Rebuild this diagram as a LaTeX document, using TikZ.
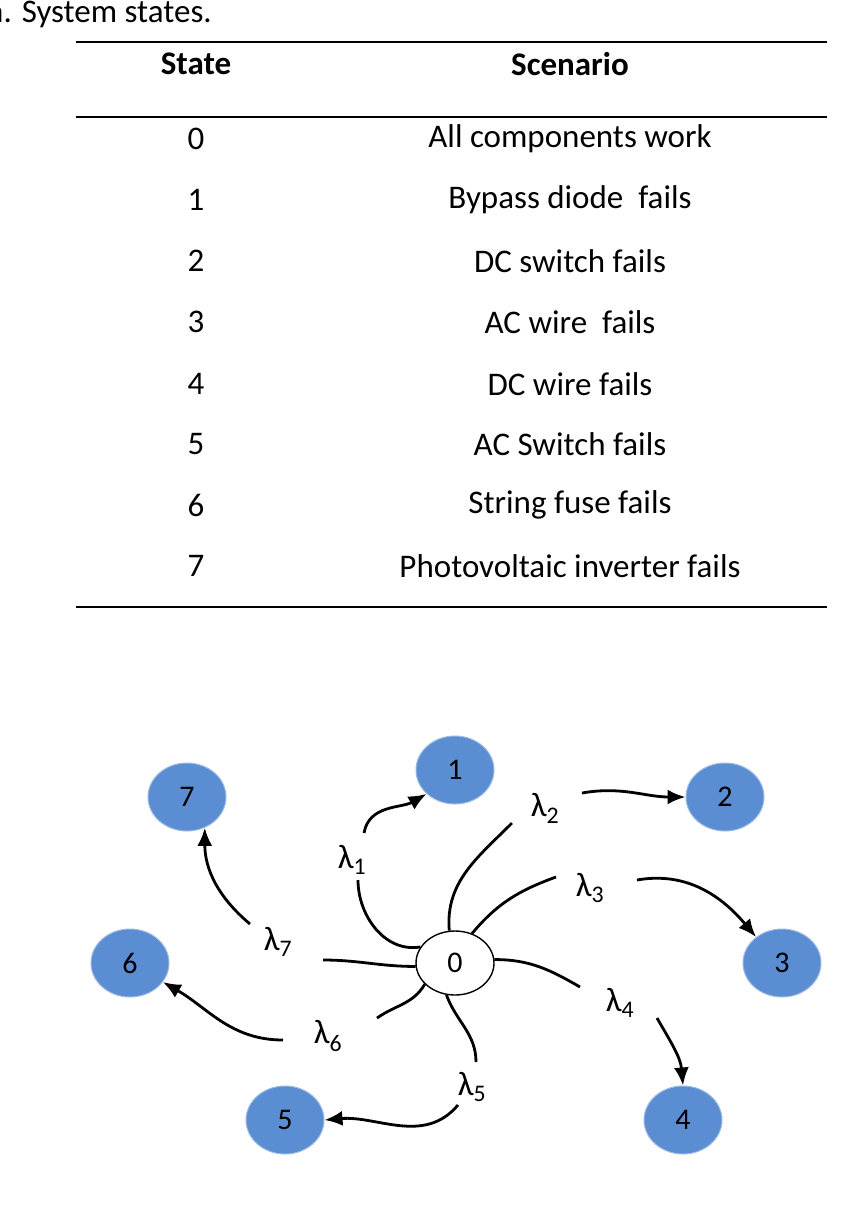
\documentclass[tikz,border=0pt]{standalone}
\usepackage{fontspec}
\setmainfont{Carlito}
\usetikzlibrary{arrows.meta,shapes.geometric}
\definecolor{stblue}{RGB}{91,141,210}
\begin{document}
\begin{tikzpicture}[x=1pt,y=-1pt,
  txt/.style={font=\fontsize{33}{36}\selectfont,inner sep=0},
  st/.style={ellipse,draw=stblue!60!white,line width=1pt,fill=stblue,minimum width=78,minimum height=68,font=\fontsize{30}{32}\selectfont,inner sep=0},
  lam/.style={font=\fontsize{34}{36}\selectfont,inner sep=0},
  arc/.style={line width=2.8pt},
  arr/.style={line width=2.8pt,-{Latex[length=18pt,width=15pt]}}]
\useasboundingbox (0,0) rectangle (847,1219);
\node[txt,anchor=base west] (cap) at (-14,22) {n. System states.};
\draw[line width=2pt] (76,42) coordinate (t1) -- (827,42) coordinate (t2);
\draw[line width=2pt] (76,117) coordinate (t3) -- (827,117) coordinate (t4);
\draw[line width=2pt] (76,607) coordinate (t5) -- (827,607) coordinate (t6);
\node[txt,font=\fontsize{33}{36}\selectfont\bfseries] (hs) at (196,64) {State};
\node[txt,font=\fontsize{33}{36}\selectfont\bfseries] (hc) at (570,64) {Scenario};
\foreach \i/\y/\t in {0/139/All components work,1/200/Bypass diode\ \ fails,2/261/DC switch fails,3/322/AC wire\ \ fails,4/384/DC wire fails,5/444/AC Switch fails,6/505/String fuse fails,7/566/Photovoltaic inverter fails}{
  \node[txt] (s\i) at (196,\y) {\i};
  \node[txt] (c\i) at (570,\y) {\t};
}
% diagram
\node[ellipse,draw,line width=1.4pt,fill=white,minimum width=78,minimum height=64,font=\fontsize{30}{32}\selectfont,inner sep=0] (n0) at (455,963) {0};
\node[st] (n1) at (455,770) {1};
\node[st] (n2) at (725,797) {2};
\node[st] (n3) at (782,963) {3};
\node[st] (n4) at (683,1120) {4};
\node[st] (n5) at (285,1120) {5};
\node[st] (n6) at (130,963) {6};
\node[st] (n7) at (187,797) {7};
\node[lam] (l1) at (352,860) {λ\textsubscript{1}};
\node[lam] (l2) at (545,808) {λ\textsubscript{2}};
\node[lam] (l3) at (590,888) {λ\textsubscript{3}};
\node[lam] (l4) at (620,1003) {λ\textsubscript{4}};
\node[lam] (l5) at (472,1087) {λ\textsubscript{5}};
\node[lam] (l6) at (328,1036) {λ\textsubscript{6}};
\node[lam] (l7) at (278,942) {λ\textsubscript{7}};
\coordinate (a1) at (358,880); \coordinate (b1) at (364,833);
\coordinate (a2) at (512,823); \coordinate (b2) at (582,793);
\coordinate (a3) at (556,877); \coordinate (b3) at (637,880);
\coordinate (a4) at (580,987); \coordinate (b4) at (657,1018);
\coordinate (a5) at (476,1062); \coordinate (b5) at (458,1105);
\coordinate (a6) at (377,1018); \coordinate (b6) at (283,1040);
\coordinate (a7) at (323,960); \coordinate (b7) at (250,924);
\draw[arc] (n0.155) to[out=190,in=270] (a1);
\draw[arr] (b1) to[out=80,in=210] (n1.220);
\draw[arc] (n0.100) to[out=95,in=225] (a2);
\draw[arr] (b2) to[out=10,in=180] (n2.180);
\draw[arc] (n0.60) to[out=50,in=200] (a3);
\draw[arr] (b3) to[out=10,in=130] (n3.135);
\draw[arc] (n0.5) to[out=0,in=150] (a4);
\draw[arr] (b4) to[out=-60,in=95] (n4.90);
\draw[arc] (n0.255) to[out=-70,in=90] (a5);
\draw[arr] (b5) to[out=230,in=5] (n5.0);
\draw[arc] (n0.215) to[out=240,in=35] (a6);
\draw[arr] (b6) to[out=180,in=330] (n6.330);
\draw[arc] (n0.185) to[out=180,in=0] (a7);
\draw[arr] (b7) to[out=140,in=270] (n7.300);
\end{tikzpicture}
\end{document}
